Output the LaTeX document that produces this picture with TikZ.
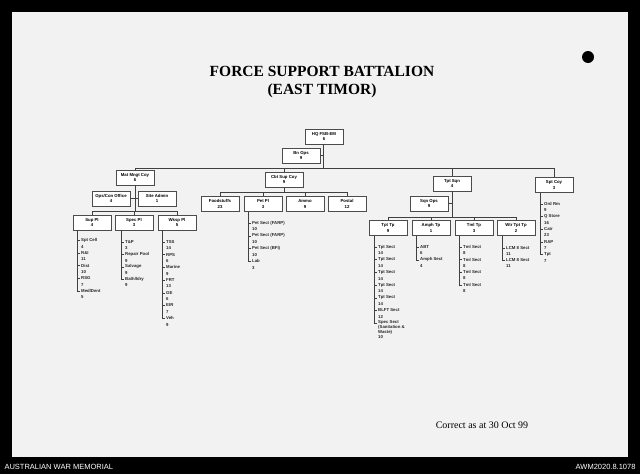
\documentclass[tikz,border=0pt]{standalone}
\usepackage{fontspec}
\setmainfont{Liberation Serif}
\newfontfamily\lsans{Liberation Sans}
\begin{document}
\begin{tikzpicture}[x=1pt,y=-1pt,
 box/.style={draw=black!70,line width=0.7pt,fill=white,minimum width=38pt,minimum height=15pt,inner sep=0pt,align=center,font=\lsans\bfseries\fontsize{4.3}{5.2}\selectfont},
 ln/.style={draw=black!75,line width=0.6pt},
 it/.style={anchor=west,inner sep=0pt,font=\lsans\bfseries\fontsize{4.3}{5}\selectfont,text=black!85}]
\useasboundingbox (0,0) rectangle (640,474);
\fill[black] (0,0) rectangle (640,474);
\fill[black!5] (12,12) rectangle (628,457);
\fill[black] (588,57) circle (6);
\node[font=\lsans\fontsize{7.5}{8}\selectfont,text=white,anchor=west] (awm) at (1,467) {AUSTRALIAN WAR MEMORIAL};
\node[font=\lsans\fontsize{7.5}{8}\selectfont,text=white,anchor=east] (acc) at (639,467) {AWM2020.8.1078};
\node[font=\bfseries\fontsize{15.5}{18}\selectfont,align=center] (title) at (322,82) {FORCE SUPPORT BATTALION\\(EAST TIMOR)};
\node[font=\fontsize{10}{12}\selectfont] (foot) at (482,425) {Correct as at 30 Oct 99};
% boxes
\node[box] (hq) at (324,136.5) {HQ FSB-EM\\6};
\node[box] (bnops) at (301,155.5) {Bn Ops\\9};
\node[box] (mat) at (135,177.5) {Mat Mngt Coy\\6};
\node[box] (opscon) at (111,198.5) {Ops/Con Office\\4};
\node[box] (site) at (157,198.5) {Site Admin\\1};
\node[box] (sup) at (92,222.5) {Sup Pl\\4};
\node[box] (spec) at (134,222.5) {Spec Pl\\3};
\node[box] (wksp) at (177,222.5) {Wksp Pl\\5};
\node[box] (cbt) at (284,179.5) {Cbt Sup Coy\\9};
\node[box] (food) at (220,204) {Foodstuffs\\23};
\node[box] (pet) at (263,204) {Pet Pl\\3};
\node[box] (ammo) at (305,204) {Ammo\\9};
\node[box] (postal) at (347,204) {Postal\\12};
\node[box] (tpt) at (452,183.5) {Tpt Sqn\\4};
\node[box] (sqnops) at (429,203.5) {Sqn Ops\\9};
\node[box] (tpttp) at (388,228) {Tpt Tp\\9};
\node[box] (amph) at (431,228) {Amph Tp\\1};
\node[box] (tml) at (474,228) {Tml Tp\\3};
\node[box] (wtr) at (516,228) {Wtr Tpt Tp\\2};
\node[box] (spt) at (554,185) {Spt Coy\\3};
% connectors
\coordinate (j0) at (323,168);
\draw[ln] (hq.south -| j0) -- (j0);
\draw[ln] (bnops.east) -- (bnops.east -| j0);
\draw[ln] (mat.north |- j0) -- (spt.north |- j0);
\foreach \n in {mat,cbt,tpt,spt} \draw[ln] (\n.north |- j0) -- (\n.north);
\coordinate (j1) at (135,211);
\draw[ln] (mat.south) -- (j1);
\draw[ln] (opscon.east) -- (opscon.east -| j1);
\draw[ln] (site.west) -- (site.west -| j1);
\draw[ln] (sup.north |- j1) -- (wksp.north |- j1);
\foreach \n in {sup,spec,wksp} \draw[ln] (\n.north |- j1) -- (\n.north);
\coordinate (j2) at (284,192);
\draw[ln] (cbt.south) -- (j2);
\draw[ln] (food.north |- j2) -- (postal.north |- j2);
\foreach \n in {food,pet,ammo,postal} \draw[ln] (\n.north |- j2) -- (\n.north);
\coordinate (j3) at (452,217);
\draw[ln] (tpt.south) -- (j3);
\draw[ln] (sqnops.east) -- (sqnops.east -| j3);
\draw[ln] (tpttp.north |- j3) -- (wtr.north |- j3);
\foreach \n in {tpttp,amph,tml,wtr} \draw[ln] (\n.north |- j3) -- (\n.north);
\newcommand\mykids[5]{%
 \foreach \lab/\num [count=\i from 0] in {#5} {
   \pgfmathsetmacro\yy{#3+2*#4*\i}
   \draw[ln] (#2,\yy) -- (#2+3,\yy);
   \node[it] (#1-\i) at (#2+4,\yy) {\lab};
   \node[it] at (#2+4,\yy+#4) {\num};
 }}
\mykids{sup}{77}{240.5}{6.3}{Spt Cell/4,R\&I/11,Dist/10,RSG/7,{Med/Dent}/5}
\draw[ln] (77,230) -- (77,290.9);
\mykids{spec}{121}{242}{6.2}{T\&P/3,Repair Pool/9,Salvage/9,{Bath/ldry}/9}
\draw[ln] (121,230) -- (121,279.2);
\mykids{wksp}{162}{242}{6.35}{TSS/14,RPS/6,Marine/9,FRT/13,GE/6,EIR/7,Veh/9}
\draw[ln] (162,230) -- (162,318.2);
\mykids{pet}{248}{223}{6.4}{Pet Sect (FARP)/10,Pet Sect (FARP)/10,Pet Sect (BFI)/10,Lab/3}
\draw[ln] (248,211.5) -- (248,261.4);
\mykids{tpttp}{374}{247}{6.35}{Tpt Sect/14,Tpt Sect/14,Tpt Sect/14,Tpt Sect/14,Tpt Sect/14,BLFT Sect/12}
\draw[ln] (374,323.2) -- (377,323.2);
\node[it,align=left,anchor=north west] (tpttp-6) at (378,320.7) {Spec Sect\\(Sanitation \&\\Waste)\\10};
\draw[ln] (374,235.5) -- (374,323.2);
\mykids{amph}{416}{247}{6.4}{ABT/6,Amph Sect/4}
\draw[ln] (416,235.5) -- (416,259.8);
\mykids{tml}{459}{247}{6.3}{Tml Sect/8,Tml Sect/8,Tml Sect/8,Tml Sect/8}
\draw[ln] (459,235.5) -- (459,284.8);
\mykids{wtr}{502}{248}{6}{LCM 8 Sect/11,LCM 8 Sect/11}
\draw[ln] (502,235.5) -- (502,260);
\mykids{spt}{540}{204}{6.3}{Ord Rm/9,Q Store/16,Catr/23,RAP/7,Tpt/7}
\draw[ln] (540,192.5) -- (540,254.4);
\end{tikzpicture}
\end{document}
